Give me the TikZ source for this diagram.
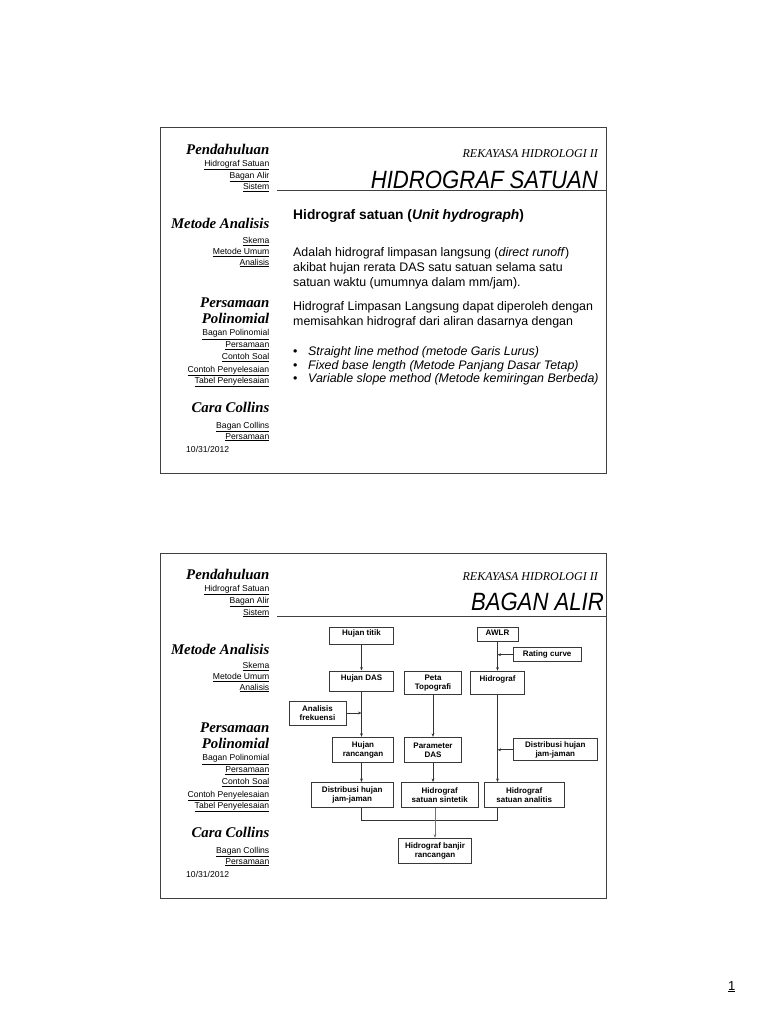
\documentclass[tikz,border=0pt]{standalone}
\usepackage{fontspec}
\usepackage{graphicx}
\setmainfont{Liberation Sans}
\newfontfamily\serf{Liberation Serif}
\usetikzlibrary{arrows.meta,calc}
\tikzset{
  frame/.style={draw=black!75, line width=0.9pt},
  rulel/.style={draw=black!75, line width=0.9pt},
  head/.style={anchor=base east, inner sep=0pt, font=\serf\bfseries\itshape\fontsize{14.8}{15}\selectfont},
  sub/.style={anchor=base east, inner sep=0pt, font=\fontsize{8.6}{10}\selectfont},
  course/.style={anchor=base east, inner sep=0pt, font=\serf\itshape\fontsize{12}{12}\selectfont},
  ttl/.style={anchor=base east, inner sep=0pt, font=\itshape\fontsize{25}{25}\selectfont},
  body/.style={anchor=base west, inner sep=0pt, font=\fontsize{12.4}{15}\selectfont},
  fbox/.style={draw=black!78, line width=1pt, fill=white, inner sep=0pt, align=center,
    font=\bfseries\fontsize{8}{9}\selectfont},
  one/.style={text height=6pt, text depth=#1},
  one/.default=6pt,
  conn/.style={draw=black!80, line width=0.95pt},
  arr/.style={conn, -{Stealth[length=3.5pt,width=2.8pt]}}
}
\begin{document}
\begin{tikzpicture}[x=1pt,y=-1pt]
\useasboundingbox (0,0) rectangle (768,1024);
\fill[white] (0,0) rectangle (768,1024);

% slide frames
\draw[frame] (160,127) rectangle (606,473);
\draw[frame] (160,553) rectangle (606,898);
\draw[rulel] (277,190.5) -- (606,190.5);
\draw[rulel] (277,616.5) -- (606,616.5);

% left panels
\foreach \o/\n in {0/a,425/b}{
  \node[head] (\n-pend) at (269.5,154.3+\o) {Pendahuluan};
  \node[sub] (\n-hs) at (269.5,166.5+\o) {\underline{Hidrograf Satuan}};
  \node[sub] (\n-ba) at (269.5,178.3+\o) {\underline{Bagan Alir}};
  \node[sub] (\n-si) at (269.5,190+\o) {\underline{Sistem}};
  \node[head] (\n-ma) at (269.5,229+\o) {Metode Analisis};
  \node[sub] (\n-sk) at (269.5,243.3+\o) {\underline{Skema}};
  \node[sub] (\n-mu) at (269.5,254.3+\o) {\underline{Metode Umum}};
  \node[sub] (\n-an) at (269.5,265+\o) {\underline{Analisis}};
  \node[head] (\n-pe) at (269.5,307.3+\o) {Persamaan};
  \node[head] (\n-po) at (269.5,323.3+\o) {Polinomial};
  \node[sub] (\n-bp) at (269.5,335.7+\o) {\underline{Bagan Polinomial}};
  \node[sub] (\n-ps) at (269.5,347.3+\o) {\underline{Persamaan}};
  \node[sub] (\n-cs) at (269.5,359.3+\o) {\underline{Contoh Soal}};
  \node[sub] (\n-cp) at (269.5,372+\o) {\underline{Contoh Penyelesaian}};
  \node[sub] (\n-tp) at (269.5,383.3+\o) {\underline{Tabel Penyelesaian}};
  \node[head] (\n-cc) at (269.5,412.7+\o) {Cara Collins};
  \node[sub] (\n-bc) at (269.5,428.3+\o) {\underline{Bagan Collins}};
  \node[sub] (\n-p2) at (269.5,439+\o) {\underline{Persamaan}};
  \node[sub, anchor=base west] (\n-dt) at (186,452.7+\o) {10/31/2012};
}

% top slide right
\node[course] (a-course) at (598,157.3) {REKAYASA HIDROLOGI II};
\node[ttl] (a-title) at (598,188.3) {\scalebox{0.885}[1]{HIDROGRAF SATUAN}};
\node[body, font=\bfseries\fontsize{13.8}{15}\selectfont] (a-h) at (293,219.3) {Hidrograf satuan (\textit{Unit hydrograph})};
\node[body] (a-l1) at (293,256.7) {Adalah hidrograf limpasan langsung (\textit{direct runoff})};
\node[body] (a-l2) at (293,271.7) {akibat hujan rerata DAS satu satuan selama satu};
\node[body] (a-l3) at (293,286.7) {satuan waktu (umumnya dalam mm/jam).};
\node[body] (a-l4) at (293,310.7) {Hidrograf Limpasan Langsung dapat diperoleh dengan};
\node[body] (a-l5) at (293,325.7) {memisahkan hidrograf dari aliran dasarnya dengan};
\foreach \y/\t/\n in {355.7/{Straight line method (metode Garis Lurus)}/1,
                      369/{Fixed base length (Metode Panjang Dasar Tetap)}/2,
                      382.3/{Variable slope method (Metode kemiringan Berbeda)}/3}{
  \node[body] (a-bu\n) at (293,\y) {•};
  \node[body, font=\itshape\fontsize{12.4}{15}\selectfont] (a-bt\n) at (308,\y) {\t};
}

% bottom slide right
\node[course] (b-course) at (598,580.7) {REKAYASA HIDROLOGI II};
\node[ttl] (b-title) at (604,610) {\scalebox{0.885}[1]{BAGAN ALIR}};

% flowchart boxes
\node[fbox, one=6.4pt, minimum width=64pt, minimum height=17pt] (ht) at (361.5,636) {Hujan titik};
\node[fbox, one=3pt, minimum width=41pt, minimum height=14pt] (awlr) at (497.5,634.2) {AWLR};
\node[fbox, one=2pt, minimum width=68pt, minimum height=14pt] (rc) at (547.2,654.7) {Rating curve};
\node[fbox, one=6.4pt, minimum width=64pt, minimum height=20pt] (hd) at (361.5,681) {Hujan DAS};
\node[fbox, minimum width=57pt, minimum height=23pt] (peta) at (433,682.7) {Peta\\Topografi};
\node[fbox, one=9pt, minimum width=54pt, minimum height=23pt] (hg) at (497.5,682.7) {Hidrograf};
\node[fbox, minimum width=57pt, minimum height=24pt] (af) at (317.5,713) {Analisis\\frekuensi};
\node[fbox, minimum width=61pt, minimum height=25pt] (hr) at (363,749.8) {Hujan\\rancangan};
\node[fbox, minimum width=57pt, minimum height=25pt] (par) at (433,749.8) {Parameter\\DAS};
\node[fbox, minimum width=84pt, minimum height=22pt] (dr) at (555.3,749.8) {Distribusi hujan\\jam-jaman};
\node[fbox, minimum width=82pt, minimum height=25pt] (dl) at (352.2,795) {Distribusi hujan\\jam-jaman};
\node[fbox, minimum width=77pt, minimum height=25pt] (hss) at (439.7,795) {Hidrograf\\satuan sintetik};
\node[fbox, minimum width=80pt, minimum height=25pt] (hsa) at (524.2,795) {Hidrograf\\satuan analitis};
\node[fbox, minimum width=73pt, minimum height=25pt] (hb) at (435,850.8) {Hidrograf banjir\\rancangan};
\coordinate (jy) at (0,820);

% connectors
\draw[arr] (ht.south) -- (hd.north);
\draw[arr] (awlr.south) -- (hg.north);
\draw[arr] (rc.west) -- (rc.west -| hg.north);
\draw[arr] (hd.south) -- (hr.north -| hd.south);
\draw[arr] (af.east) -- (af.east -| hd.south);
\draw[arr] (peta.south) -- (par.north);
\draw[arr] (hg.south) -- (hsa.north -| hg.south);
\draw[arr] (dr.west) -- (dr.west -| hg.south);
\draw[arr] (hr.south -| hd.south) -- (dl.north -| hd.south);
\draw[arr] (par.south) -- (hss.north -| par.south);
\draw[conn] (dl.south -| hd.south) -- (jy -| hd.south) -- (jy -| hg.south) -- (hsa.south -| hg.south);
\draw[arr, draw=black!55] (hss.south -| hb.north) -- (hb.north);

% page number
\node[anchor=base, inner sep=0pt, font=\fontsize{13}{13}\selectfont] (pg) at (731.7,990) {\underline{1}};
\end{tikzpicture}
\end{document}
